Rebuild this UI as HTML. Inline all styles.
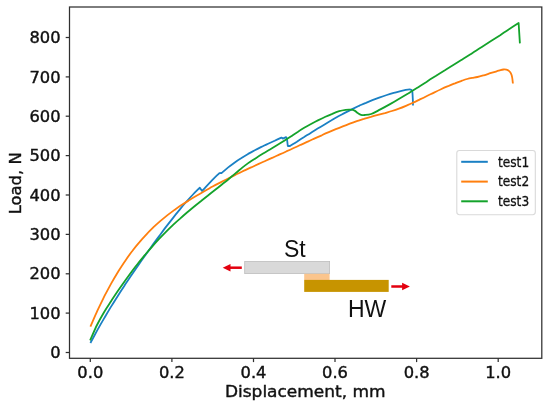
<!DOCTYPE html>
<html lang="en">
<head>
<meta charset="utf-8">
<title>Load vs Displacement</title>
<style>
html,body{margin:0;padding:0;background:#ffffff;}
body{width:550px;height:406px;overflow:hidden;}
svg{display:block;}
</style>
</head>
<body>
<svg width="550" height="406" viewBox="0 0 550 406">
<rect x="0" y="0" width="550" height="406" fill="#ffffff"/>
<g fill="none" stroke-width="1.8" stroke-linejoin="round" stroke-linecap="butt">
<path d="M90.4 343.0C91.5 340.9 95.0 334.5 97.2 330.4C99.5 326.3 101.8 322.3 104.1 318.4C106.4 314.5 108.6 310.7 110.9 306.9C113.2 303.2 115.5 299.5 117.8 295.9C120.0 292.3 122.3 288.8 124.6 285.4C126.9 281.9 129.1 278.5 131.4 275.2C133.7 271.8 136.0 268.5 138.3 265.2C140.5 262.0 142.8 258.7 145.1 255.5C147.4 252.3 149.7 249.2 151.9 246.0C154.2 242.8 156.5 239.7 158.8 236.6C161.1 233.5 163.3 230.4 165.6 227.4C167.9 224.4 170.2 221.5 172.5 218.6C174.7 215.7 177.0 212.8 179.3 210.1C181.6 207.3 183.8 204.6 186.1 202.0C188.4 199.4 190.7 196.9 193.0 194.5C195.2 192.2 198.7 188.8 199.8 187.7L202.1 191.1C203.5 189.5 207.9 184.6 210.8 181.6C213.6 178.6 218.0 174.5 219.4 173.1L221.5 173.0C222.6 172.1 225.9 169.2 228.2 167.4C230.4 165.6 232.6 164.0 234.8 162.4C237.0 160.8 239.2 159.4 241.5 158.0C243.7 156.5 245.9 155.2 248.1 153.9C250.3 152.7 252.6 151.5 254.8 150.3C257.0 149.1 259.2 148.0 261.4 146.9C263.7 145.8 265.9 144.8 268.1 143.7C270.3 142.7 272.5 141.7 274.7 140.7C277.0 139.6 280.3 138.1 281.4 137.6L282.8 138.6L286.1 137.1L287.0 139.0L287.8 146.0L290.0 146.0C291.2 145.3 294.6 143.1 296.9 141.7C299.2 140.2 301.5 138.7 303.8 137.3C306.1 135.8 308.4 134.4 310.7 132.9C313.0 131.5 315.3 130.0 317.6 128.6C320.0 127.2 322.3 125.8 324.6 124.4C326.9 123.0 329.2 121.6 331.5 120.3C333.8 118.9 336.1 117.6 338.4 116.3C340.7 115.1 343.0 113.8 345.3 112.6C347.6 111.4 349.9 110.2 352.2 109.1C354.5 108.0 356.8 106.9 359.1 105.8C361.4 104.8 363.7 103.7 366.0 102.8C368.3 101.8 370.6 100.8 373.0 99.9C375.3 99.0 377.6 98.2 379.9 97.3C382.2 96.5 384.5 95.7 386.8 95.0C389.1 94.3 391.4 93.6 393.7 92.9C396.0 92.3 398.6 91.6 400.6 91.1C402.6 90.6 404.2 90.2 405.7 89.9C407.2 89.6 408.6 89.4 409.6 89.4C410.6 89.4 411.0 89.6 411.5 90.0C412.0 90.4 412.2 91.7 412.4 92.0C412.5 93.2 412.7 96.7 412.8 99.0C412.9 101.3 413.0 104.5 413.0 105.6" stroke="#1a80c4"/>
<path d="M90.4 326.7C91.6 324.0 95.1 315.8 97.4 310.7C99.7 305.7 102.1 300.9 104.4 296.2C106.8 291.6 109.1 287.3 111.4 283.1C113.8 278.9 116.1 275.0 118.4 271.2C120.8 267.4 123.1 263.8 125.5 260.4C127.8 257.0 130.1 253.8 132.5 250.8C134.8 247.7 137.1 244.8 139.5 242.1C141.8 239.3 144.2 236.7 146.5 234.3C148.8 231.8 151.2 229.5 153.5 227.2C155.8 225.0 158.2 222.9 160.5 220.9C162.9 218.9 165.2 217.0 167.5 215.1C169.9 213.3 172.2 211.6 174.5 209.9C176.9 208.2 179.2 206.6 181.5 205.1C183.9 203.5 186.2 202.0 188.6 200.6C190.9 199.1 193.2 197.7 195.6 196.3C197.9 194.9 200.2 193.5 202.6 192.2C204.9 190.8 207.3 189.5 209.6 188.2C211.9 186.9 214.3 185.7 216.6 184.4C218.9 183.2 221.3 182.0 223.6 180.8C226.0 179.6 228.3 178.4 230.6 177.2C233.0 176.1 235.3 174.9 237.6 173.8C240.0 172.7 242.3 171.5 244.6 170.4C247.0 169.3 249.3 168.2 251.7 167.2C254.0 166.1 256.3 165.0 258.7 163.9C261.0 162.9 263.3 161.8 265.7 160.7C268.0 159.7 270.4 158.6 272.7 157.6C275.0 156.5 277.4 155.5 279.7 154.4C282.0 153.4 284.4 152.3 286.7 151.2C289.1 150.2 291.4 149.1 293.7 148.0C296.1 147.0 298.4 145.9 300.7 144.8C303.1 143.8 305.4 142.7 307.8 141.6C310.1 140.5 312.4 139.5 314.8 138.4C317.1 137.4 319.4 136.3 321.8 135.3C324.1 134.2 326.4 133.2 328.8 132.2C331.1 131.2 333.5 130.2 335.8 129.2C338.1 128.3 340.5 127.3 342.8 126.4C345.1 125.5 347.5 124.6 349.8 123.7C352.2 122.8 354.5 122.0 356.8 121.2C359.2 120.4 361.5 119.6 363.8 118.9C366.2 118.1 368.5 117.4 370.9 116.8C373.2 116.1 375.5 115.5 377.9 114.9C380.2 114.3 382.5 113.7 384.9 113.1C387.2 112.4 389.5 111.8 391.9 111.0C394.2 110.3 396.6 109.5 398.9 108.6C401.2 107.8 403.6 106.8 405.9 105.8C408.2 104.8 410.6 103.8 412.9 102.7C415.3 101.7 417.6 100.5 419.9 99.4C422.3 98.3 424.6 97.2 426.9 96.0C429.3 94.9 431.6 93.7 434.0 92.6C436.3 91.5 438.6 90.4 441.0 89.3C443.3 88.2 445.6 87.2 448.0 86.2C450.3 85.1 452.7 84.2 455.0 83.3C457.3 82.3 460.0 81.4 462.0 80.7C464.0 80.0 465.4 79.5 467.1 79.0C468.8 78.5 470.5 78.2 472.2 77.9C473.9 77.6 475.5 77.4 477.4 77.0C479.3 76.6 481.7 75.9 483.8 75.3C485.9 74.7 488.1 73.9 490.2 73.2C492.3 72.5 494.9 71.8 496.6 71.3C498.3 70.8 499.4 70.4 500.5 70.1C501.6 69.8 502.5 69.6 503.5 69.5C504.5 69.4 505.5 69.5 506.4 69.7C507.3 69.9 508.2 70.3 508.9 70.9C509.6 71.5 510.3 72.2 510.8 73.2C511.3 74.2 511.8 75.4 512.1 77.1C512.5 78.8 512.8 82.4 512.9 83.5" stroke="#ff7f0e"/>
<path d="M90.1 340.4C91.3 337.8 94.7 329.7 97.0 325.0C99.3 320.4 101.6 316.4 103.9 312.5C106.2 308.5 108.6 305.0 110.9 301.5C113.2 297.9 115.5 294.5 117.8 291.1C120.1 287.7 122.4 284.4 124.7 281.2C127.0 278.0 129.3 274.8 131.6 271.7C133.9 268.7 136.2 265.7 138.5 262.8C140.8 259.9 143.1 257.0 145.5 254.3C147.8 251.5 150.1 248.9 152.4 246.3C154.7 243.7 157.0 241.2 159.3 238.7C161.6 236.3 163.9 233.9 166.2 231.6C168.5 229.3 170.8 227.1 173.1 224.9C175.4 222.7 177.7 220.6 180.1 218.6C182.4 216.5 184.7 214.5 187.0 212.5C189.3 210.6 191.6 208.7 193.9 206.8C196.2 204.9 198.5 203.0 200.8 201.2C203.1 199.3 205.4 197.5 207.7 195.7C210.0 193.8 212.3 192.0 214.6 190.2C217.0 188.4 219.3 186.6 221.6 184.7C223.9 182.9 226.2 181.0 228.5 179.2C230.8 177.3 233.1 175.3 235.4 173.4C237.7 171.5 240.0 169.5 242.3 167.6C244.6 165.8 246.9 164.1 249.2 162.4C251.6 160.8 253.9 159.4 256.2 157.9C258.5 156.4 260.8 155.0 263.1 153.6C265.4 152.2 267.7 150.9 270.0 149.5C272.3 148.1 274.6 146.7 276.9 145.2C279.2 143.8 281.5 142.4 283.8 140.9C286.2 139.4 288.5 137.9 290.8 136.4C293.1 134.9 295.4 133.3 297.7 131.9C300.0 130.4 302.3 129.0 304.6 127.6C306.9 126.2 309.2 125.0 311.5 123.7C313.8 122.5 316.1 121.3 318.4 120.1C320.7 119.0 323.1 117.9 325.4 116.8C327.7 115.7 330.0 114.7 332.3 113.8C334.6 112.8 337.0 111.8 339.2 111.2C341.4 110.6 343.7 110.2 345.6 109.9C347.5 109.6 349.2 109.6 350.7 109.7C352.2 109.8 353.4 110.0 354.6 110.6C355.8 111.2 356.7 112.4 357.8 113.1C358.9 113.8 359.8 114.5 361.0 114.8C362.2 115.1 363.1 115.1 364.8 115.0C366.5 114.9 368.6 114.9 371.2 114.0C373.8 113.1 377.3 111.0 380.4 109.4C383.5 107.8 386.6 106.1 389.6 104.4C392.7 102.7 395.8 100.9 398.8 99.0C401.9 97.2 405.0 95.3 408.1 93.5C411.1 91.6 414.2 89.6 417.3 87.7C420.3 85.8 423.4 83.8 426.5 81.9C429.5 79.9 432.6 78.0 435.7 76.1C438.8 74.1 441.8 72.2 444.9 70.3C448.0 68.3 451.0 66.4 454.1 64.5C457.2 62.6 460.3 60.6 463.3 58.7C466.4 56.8 469.5 54.8 472.5 52.9C475.6 51.0 478.7 49.0 481.8 47.0C484.8 45.1 487.9 43.1 491.0 41.1C494.0 39.2 497.1 37.2 500.2 35.2C503.2 33.1 506.3 31.1 509.4 29.1C512.5 27.0 517.1 23.9 518.6 22.9L519.9 43.4" stroke="#14a32b"/>
</g>
<rect x="69.5" y="7.0" width="472.3" height="351.3" fill="none" stroke="#303030" stroke-width="1.25"/>
<g stroke="#303030" stroke-width="1.25">
<line x1="90.3" y1="358.3" x2="90.3" y2="362.1"/>
<line x1="171.9" y1="358.3" x2="171.9" y2="362.1"/>
<line x1="253.5" y1="358.3" x2="253.5" y2="362.1"/>
<line x1="335.0" y1="358.3" x2="335.0" y2="362.1"/>
<line x1="416.6" y1="358.3" x2="416.6" y2="362.1"/>
<line x1="498.2" y1="358.3" x2="498.2" y2="362.1"/>
<line x1="65.7" y1="352.5" x2="69.5" y2="352.5"/>
<line x1="65.7" y1="313.1" x2="69.5" y2="313.1"/>
<line x1="65.7" y1="273.8" x2="69.5" y2="273.8"/>
<line x1="65.7" y1="234.4" x2="69.5" y2="234.4"/>
<line x1="65.7" y1="195.0" x2="69.5" y2="195.0"/>
<line x1="65.7" y1="155.6" x2="69.5" y2="155.6"/>
<line x1="65.7" y1="116.2" x2="69.5" y2="116.2"/>
<line x1="65.7" y1="76.9" x2="69.5" y2="76.9"/>
<line x1="65.7" y1="37.5" x2="69.5" y2="37.5"/>
</g>
<g font-family="'DejaVu Sans', 'Liberation Sans', sans-serif" font-size="16.30" fill="#111111" stroke="#111111" stroke-width="0.4">
<text x="90.3" y="377.8" text-anchor="middle">0.0</text>
<text x="171.9" y="377.8" text-anchor="middle">0.2</text>
<text x="253.5" y="377.8" text-anchor="middle">0.4</text>
<text x="335.0" y="377.8" text-anchor="middle">0.6</text>
<text x="416.6" y="377.8" text-anchor="middle">0.8</text>
<text x="498.2" y="377.8" text-anchor="middle">1.0</text>
<text x="60.6" y="358.1" text-anchor="end">0</text>
<text x="60.6" y="318.7" text-anchor="end">100</text>
<text x="60.6" y="279.4" text-anchor="end">200</text>
<text x="60.6" y="240.0" text-anchor="end">300</text>
<text x="60.6" y="200.6" text-anchor="end">400</text>
<text x="60.6" y="161.2" text-anchor="end">500</text>
<text x="60.6" y="121.8" text-anchor="end">600</text>
<text x="60.6" y="82.5" text-anchor="end">700</text>
<text x="60.6" y="43.1" text-anchor="end">800</text>
<text transform="translate(305.3 397.1) scale(1.050 1)" text-anchor="middle" font-size="16.20">Displacement, mm</text>
<text transform="translate(21.4 183.3) rotate(-90) scale(1.013 1)" text-anchor="middle" font-size="16.20">Load, N</text>
</g>
<rect x="456.8" y="150.5" width="78.5" height="64.2" rx="2.6" ry="2.6" fill="#ffffff" fill-opacity="0.8" stroke="#d9d9d9" stroke-width="1.1"/>
<g stroke-width="2.0" fill="none">
<line x1="461.2" y1="161.8" x2="487.8" y2="161.8" stroke="#1a80c4"/>
<line x1="461.2" y1="181.6" x2="487.8" y2="181.6" stroke="#ff7f0e"/>
<line x1="461.2" y1="201.3" x2="487.8" y2="201.3" stroke="#14a32b"/>
</g>
<g font-family="'DejaVu Sans', 'Liberation Sans', sans-serif" font-size="13.70" fill="#111111" stroke="#111111" stroke-width="0.3">
<text transform="translate(498.0 166.6) scale(0.890 1)">test1</text>
<text transform="translate(498.0 186.4) scale(0.890 1)">test2</text>
<text transform="translate(498.0 206.1) scale(0.890 1)">test3</text>
</g>
<rect x="244.7" y="261.4" width="84.9" height="12.2" fill="#d9d9d9" stroke="#bdbdbd" stroke-width="0.8"/>
<rect x="304.2" y="273.8" width="25.4" height="6.2" fill="#fbc58d"/>
<rect x="304.2" y="279.9" width="84.5" height="12.0" fill="#c79400"/>
<g fill="#e3000f" stroke="none">
<rect x="229" y="266.45" width="12.8" height="2.5"/>
<path d="M222.7 267.7L230.5 263.9L230.5 271.5Z"/>
<rect x="391.3" y="285.25" width="12" height="2.5"/>
<path d="M409.9 286.5L402.1 282.7L402.1 290.3Z"/>
</g>
<g font-family="'Liberation Sans', Arial, sans-serif" font-size="23" fill="#111111">
<text x="284.0" y="256.6">St</text>
<text x="348.0" y="316.6">HW</text>
</g>
</svg>
</body>
</html>
